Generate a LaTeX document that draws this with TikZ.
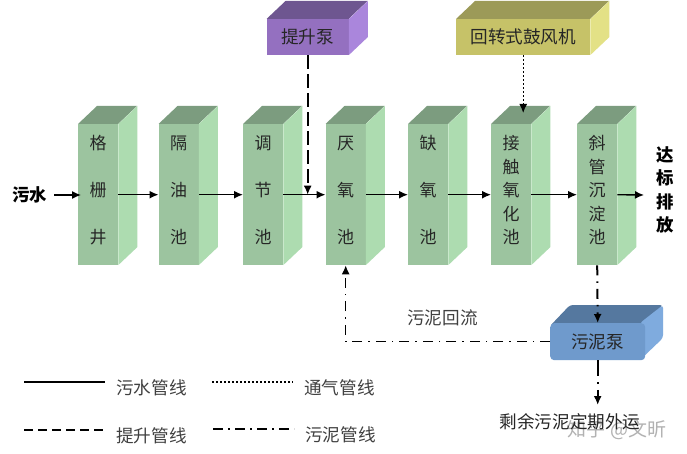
\documentclass[tikz,border=0pt]{standalone}
\usepackage{fontspec}
\setmainfont{Noto Sans CJK SC}
\usetikzlibrary{positioning,arrows.meta}
\definecolor{tankfront}{HTML}{9CC49F}
\definecolor{tankside}{HTML}{ADDCB0}
\definecolor{tanktop}{HTML}{7C9C7F}
\definecolor{purfront}{HTML}{9470C0}
\definecolor{purside}{HTML}{AA86DC}
\definecolor{purtop}{HTML}{6E5690}
\definecolor{yelfront}{HTML}{C6C268}
\definecolor{yelside}{HTML}{E3E186}
\definecolor{yeltop}{HTML}{9C9A58}
\definecolor{blufront}{HTML}{6F9ACC}
\definecolor{bluside}{HTML}{7FABDE}
\definecolor{blutop}{HTML}{55789F}
\tikzset{
	>={Latex[length=9pt,width=8pt]},
	tank/.style={fill=tankfront,minimum width=40pt,minimum height=141pt,inner sep=0pt,anchor=north west},
	tanktext/.style={align=center,text=black!85,font=\fontsize{17}{#1}\selectfont},
	pumpbox/.style={minimum height=36pt,inner sep=0pt,anchor=north west,font=\fontsize{17.6}{18}\selectfont,text=black!85},
	plaintext/.style={inner sep=0pt,font=\fontsize{17.6}{18}\selectfont,text=black!75},
	boldtext/.style={inner sep=0pt,align=center,font=\fontsize{17.4}{#1}\selectfont\bfseries},
	water/.style={line width=1.4pt,->},
	lift/.style={line width=2.2pt,dash pattern=on 14pt off 5pt,->},
	air/.style={line width=1.3pt,dash pattern=on 1.5pt off 2.5pt,->},
	sludge/.style={line width=1.3pt,dash pattern=on 10pt off 6pt on 1.5pt off 6pt,->},
	sludgeup/.style={sludge,line width=2pt},
	legwater/.style={line width=1.4pt},
	legair/.style={line width=1.3pt,dash pattern=on 1.5pt off 2.5pt},
	leglift/.style={line width=1.8pt,dash pattern=on 9pt off 5pt},
	legsludge/.style={line width=2.2pt,dash pattern=on 10pt off 5pt on 2pt off 5pt},
}
\begin{document}
\begin{tikzpicture}[x=1pt,y=-1pt]
	\useasboundingbox[fill=white] (0,0) rectangle (687,454);
	% los tanques
	\foreach \Xc/\Nombre/\Paso/\Texto in 
	{78/geshan/47/格\\栅\\井,158.5/geyou/47/隔\\油\\池,243/tiaojie/47/调\\节\\池,325.5/yanyang/47/厌\\氧\\池,408/queyang/47/缺\\氧\\池,491/jiechu/23.5/接\\触\\氧\\化\\池,577/xieguan/23.5/斜\\管\\沉\\淀\\池}
	{
		\node[tank] (\Nombre) at (\Xc,124) {};
		\fill[tanktop] (\Nombre.north west) -- ++(19,-18) -- ++(40,0) -- ++(-19,18) -- cycle;
		\fill[tankside] (\Nombre.north east) -- ++(19,-18) -- ++(0,141) -- ++(-19,18) -- cycle;
		\node[tanktext=\Paso,yshift=4.5pt] (\Nombre-text) at (\Nombre.center) {\Texto};
	}
	% las bombas
	\node[pumpbox,minimum width=82pt,fill=purfront] (tisheng) at (266.5,19) {提升泵};
	\fill[purtop] (tisheng.north west) -- ++(19,-18) -- ++(82,0) -- ++(-19,18) -- cycle;
	\fill[purside] (tisheng.north east) -- ++(19,-18) -- ++(0,36) -- ++(-19,18) -- cycle;
	\node[pumpbox,minimum width=134pt,fill=yelfront] (gufeng) at (456,19) {回转式鼓风机};
	\fill[yeltop] (gufeng.north west) -- ++(19,-18) -- ++(134,0) -- ++(-19,18) -- cycle;
	\fill[yelside] (gufeng.north east) -- ++(19,-18) -- ++(0,36) -- ++(-19,18) -- cycle;
	\fill[blutop,rounded corners=3pt] (550,326) -- (570,305) -- (663,305) -- (645,326) -- cycle;
	\fill[bluside,rounded corners=3pt] (640,323) -- (663,305) -- (663,338) -- (640,360) -- cycle;
	\node[pumpbox,minimum width=95pt,minimum height=37pt,fill=blufront,rounded corners=4pt] (wuni) at (550,323) {污泥泵};
	% textos
	\node[boldtext=18] (wushui) at (29.5,195) {污水};
	\node[boldtext=23.5] (dabiao) at (665,190) {达\\标\\排\\放};
	\node[plaintext] (huiliu) at (442.5,318) {污泥回流};
	\node[inner sep=0pt,text=black!30,font=\fontsize{19}{20}\selectfont] (marca) at (617,430) {知乎 @文昕};
	\node[plaintext,text=black!85] (shengyu) at (570,422) {剩余污泥定期外运};
	\coordinate (salida) at (644,195);
	\coordinate (cruce) at (tisheng.south |- yanyang.west);
	\coordinate (codo) at (yanyang.south |- wuni.west);
	\coordinate (aire) at (gufeng.south |- 0,113);
	\coordinate (fango) at (wuni.south |- 0,405);
	\coordinate (entrada) at (81,195);
	% lineas de proceso
	\draw[water] (wushui.east) ++(7,0) -- (entrada);
	\foreach \Xa/\Xb in {geshan/geyou,geyou/tiaojie,tiaojie/yanyang,yanyang/queyang,queyang/jiechu,jiechu/xieguan}
	{
		\draw[water] (\Xa.east) -- (\Xb.west);
	}
	\draw[water] (xieguan.east) -- (salida);
	\draw[lift] (tisheng.south) -- (cruce);
	\draw[air] (gufeng.south) -- (aire);
	\draw[sludgeup] (xieguan.south) -- (wuni.north);
	\draw[sludge] (wuni.west) -- (codo) -- (yanyang.south);
	\draw[sludgeup,dash pattern=on 16pt off 6pt on 1.5pt off 6pt] (wuni.south) -- (fango);
	% leyenda
	\foreach \Nombre/\Xc/\Yc/\Texto/\Linea in 
	{lwater/24/382/污水管线/legwater,lair/212/382/通气管线/legair,llift/24/430/提升管线/leglift,lsludge/213/429/污泥管线/legsludge}
	{
		\coordinate (\Nombre-a) at (\Xc,\Yc);
		\coordinate (\Nombre-b) at (\Xc+81,\Yc);
		\draw[\Linea] (\Nombre-a) -- (\Nombre-b);
		\node[plaintext,anchor=west] (\Nombre-text) at (\Xc+92,\Yc+5.5) {\Texto};
	}
\end{tikzpicture}
\end{document}
